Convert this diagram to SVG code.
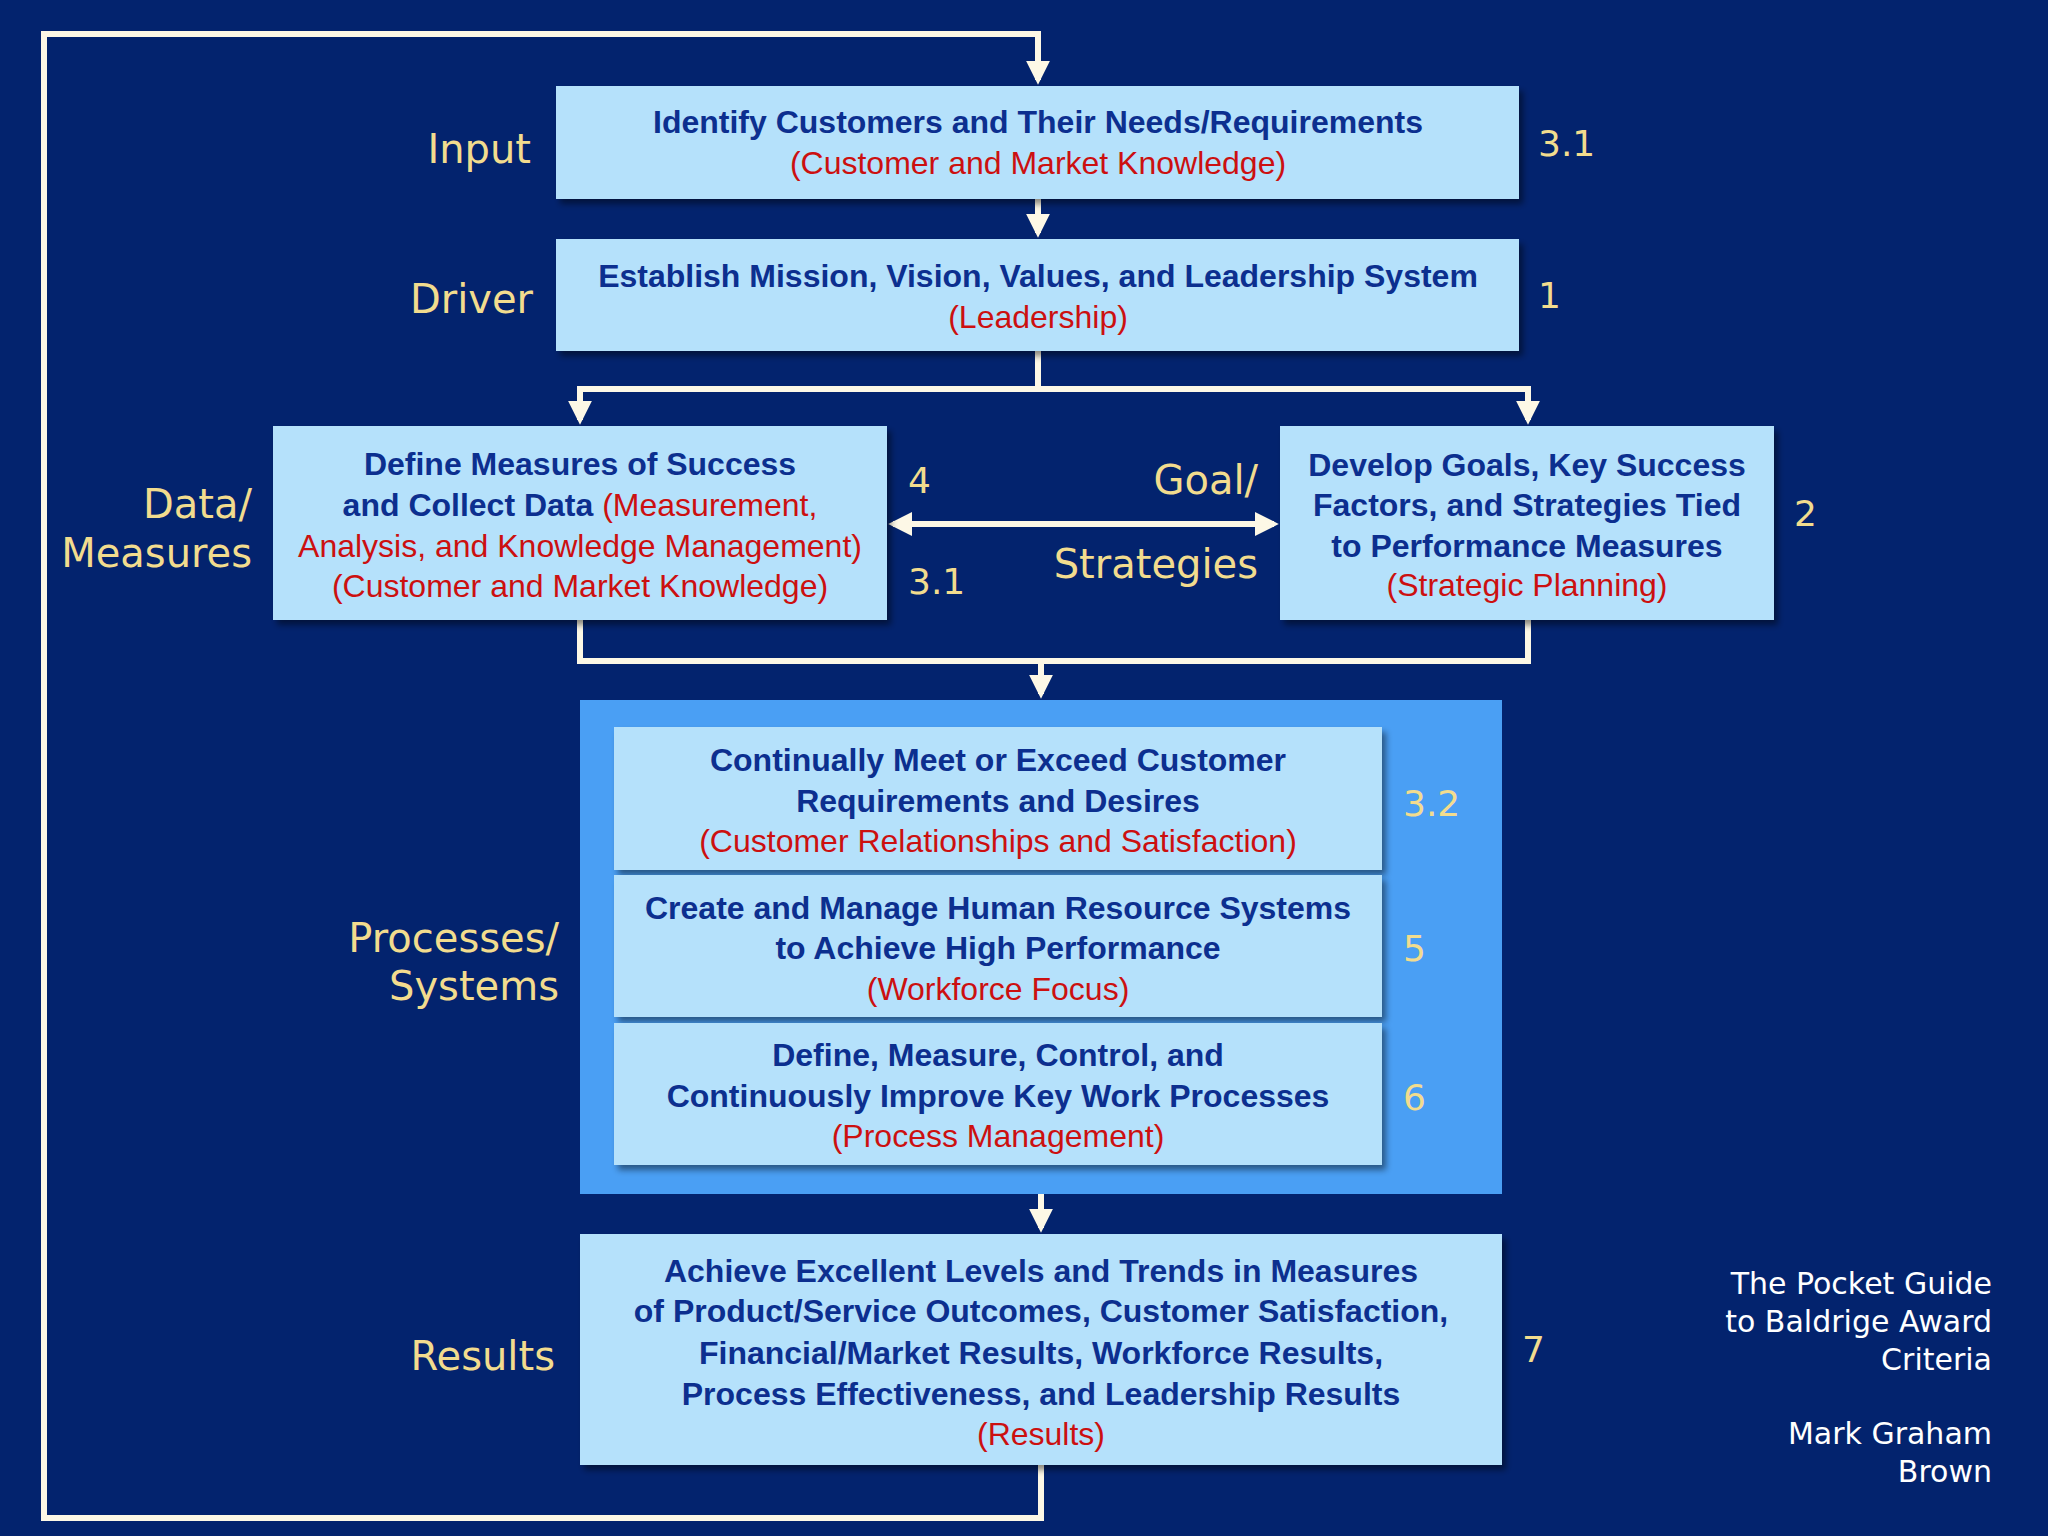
<svg xmlns="http://www.w3.org/2000/svg" width="2048" height="1536" viewBox="0 0 2048 1536">
<defs>
<marker id="ah" markerWidth="4" markerHeight="4" refX="3.2" refY="2" orient="auto-start-reverse" markerUnits="strokeWidth"><path d="M0,0 L4,2 L0,4 z" fill="#fdf8e6"/></marker>
<filter id="sh" x="-5%" y="-5%" width="115%" height="120%"><feDropShadow dx="4" dy="5" stdDeviation="3" flood-color="#000" flood-opacity="0.45"/></filter>
<style>
.box{fill:#b5e1fb;filter:url(#sh)}
.t{font-family:"Liberation Sans",Arial,sans-serif;font-weight:bold;font-size:32px;fill:#0c2f8f;text-anchor:middle}
.r{font-family:"Liberation Sans",Arial,sans-serif;font-size:32px;fill:#cc1010;text-anchor:middle}
.lab{font-family:"DejaVu Sans",sans-serif;font-size:40px;fill:#f2dc8e;text-anchor:end}
.num{font-family:"DejaVu Sans",sans-serif;font-size:36px;fill:#f2dc8e}
.cit{font-family:"DejaVu Sans",sans-serif;font-size:30px;fill:#ffffff;text-anchor:end}
.ln{fill:none;stroke:#fdf8e6;stroke-width:6}
</style>
</defs>
<rect width="2048" height="1536" fill="#03236e"/>
<g id="connectors">
<path class="ln" d="M1041,1465 V1518 H44 V34 H1038 V80" marker-end="url(#ah)"/>
<path class="ln" d="M1038,199 V233" marker-end="url(#ah)"/>
<path class="ln" d="M1038,351 V389 H580 V420" marker-end="url(#ah)"/>
<path class="ln" d="M1038,389 H1528 V420" marker-end="url(#ah)"/>
<path class="ln" d="M893,524 H1274" marker-start="url(#ah)" marker-end="url(#ah)"/>
<path class="ln" d="M580,620 V661 H1528 V620"/>
<path class="ln" d="M1041,661 V694" marker-end="url(#ah)"/>
<path class="ln" d="M1041,1194 V1228" marker-end="url(#ah)"/>
</g>
<g id="n1"><rect class="box" x="556" y="86" width="963" height="113"/>
<text class="t" x="1038" y="133">Identify Customers and Their Needs/Requirements</text>
<text class="r" x="1038" y="174">(Customer and Market Knowledge)</text></g>
<g id="n2"><rect class="box" x="556" y="239" width="963" height="112"/>
<text class="t" x="1038" y="287">Establish Mission, Vision, Values, and Leadership System</text>
<text class="r" x="1038" y="328">(Leadership)</text></g>
<g id="n3"><rect class="box" x="273" y="426" width="614" height="194"/>
<text class="t" x="580" y="475">Define Measures of Success</text>
<text class="t" x="580" y="516">and Collect Data <tspan class="r" style="font-weight:normal">(Measurement,</tspan></text>
<text class="r" x="580" y="557">Analysis, and Knowledge Management)</text>
<text class="r" x="580" y="597">(Customer and Market Knowledge)</text></g>
<g id="n4"><rect class="box" x="1280" y="426" width="494" height="194"/>
<text class="t" x="1527" y="476">Develop Goals, Key Success</text>
<text class="t" x="1527" y="516">Factors, and Strategies Tied</text>
<text class="t" x="1527" y="557">to Performance Measures</text>
<text class="r" x="1527" y="596">(Strategic Planning)</text></g>
<g id="container"><rect x="580" y="700" width="922" height="494" fill="#4a9ff4"/></g>
<g id="n5"><rect class="box" x="614" y="727" width="768" height="143"/>
<text class="t" x="998" y="771">Continually Meet or Exceed Customer</text>
<text class="t" x="998" y="812">Requirements and Desires</text>
<text class="r" x="998" y="852">(Customer Relationships and Satisfaction)</text></g>
<g id="n6"><rect class="box" x="614" y="875" width="768" height="142"/>
<text class="t" x="998" y="919">Create and Manage Human Resource Systems</text>
<text class="t" x="998" y="959">to Achieve High Performance</text>
<text class="r" x="998" y="1000">(Workforce Focus)</text></g>
<g id="n7"><rect class="box" x="614" y="1023" width="768" height="142"/>
<text class="t" x="998" y="1066">Define, Measure, Control, and</text>
<text class="t" x="998" y="1107">Continuously Improve Key Work Processes</text>
<text class="r" x="998" y="1147">(Process Management)</text></g>
<g id="n8"><rect class="box" x="580" y="1234" width="922" height="231"/>
<text class="t" x="1041" y="1282">Achieve Excellent Levels and Trends in Measures</text>
<text class="t" x="1041" y="1322">of Product/Service Outcomes, Customer Satisfaction,</text>
<text class="t" x="1041" y="1364">Financial/Market Results, Workforce Results,</text>
<text class="t" x="1041" y="1405">Process Effectiveness, and Leadership Results</text>
<text class="r" x="1041" y="1445">(Results)</text></g>
<g id="labels">
<text class="lab" x="531" y="163">Input</text>
<text class="lab" x="533" y="313">Driver</text>
<text class="lab" x="252" y="518">Data/</text>
<text class="lab" x="252" y="567">Measures</text>
<text class="lab" x="1258" y="494">Goal/</text>
<text class="lab" x="1258" y="578">Strategies</text>
<text class="lab" x="559" y="952">Processes/</text>
<text class="lab" x="559" y="1000">Systems</text>
<text class="lab" x="555" y="1370">Results</text>
<text class="num" x="1538" y="156">3.1</text>
<text class="num" x="1538" y="308">1</text>
<text class="num" x="908" y="493">4</text>
<text class="num" x="908" y="594">3.1</text>
<text class="num" x="1794" y="526">2</text>
<text class="num" x="1403" y="816">3.2</text>
<text class="num" x="1403" y="961">5</text>
<text class="num" x="1403" y="1110">6</text>
<text class="num" x="1522" y="1362">7</text>
<text class="cit" x="1992" y="1294">The Pocket Guide</text>
<text class="cit" x="1992" y="1332">to Baldrige Award</text>
<text class="cit" x="1992" y="1370">Criteria</text>
<text class="cit" x="1992" y="1444">Mark Graham</text>
<text class="cit" x="1992" y="1482">Brown</text>
</g>
</svg>
